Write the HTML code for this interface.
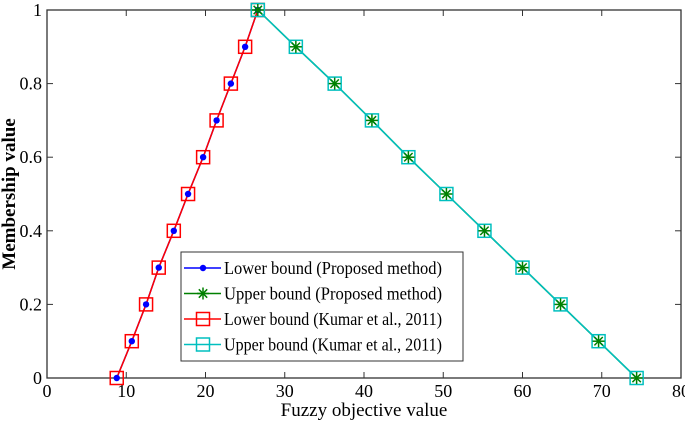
<!DOCTYPE html>
<html><head><meta charset="utf-8"><style>
body{margin:0;background:#fff;}
svg text{font-family:"Liberation Serif",serif;}
</style></head><body>
<svg id="chart" width="685" height="429" xmlns="http://www.w3.org/2000/svg"></svg>
<script>
const membership = [0,0.1,0.2,0.3,0.4,0.5,0.6,0.7,0.8,0.9,1];
const lowerProposed = [8.8,10.7,12.5,14.1,16.0,17.8,19.7,21.4,23.2,25.0,26.6];
const upperMembership = [1,0.9,0.8,0.7,0.6,0.5,0.4,0.3,0.2,0.1,0];
const upperProposed = [26.6,31.4,36.3,41.0,45.6,50.4,55.2,60.0,64.8,69.6,74.4];
const xTicks = [0,10,20,30,40,50,60,70,80];
const yTicks = [0,0.2,0.4,0.6,0.8,1];
const yTickLabels = ["0","0.2","0.4","0.6","0.8","1"];
const legendLabels = ["Lower bound (Proposed method)","Upper bound (Proposed method)","Lower bound (Kumar et al., 2011)","Upper bound (Kumar et al., 2011)"];

const NS="http://www.w3.org/2000/svg";
const svg=document.getElementById('chart');
const L=47,R=681,T=10,B=378;
const xs=v=>L+(v-0)/80*(R-L);
const ys=v=>B-v*(B-T);
function el(tag,attrs,parent){const e=document.createElementNS(NS,tag);for(const k in attrs)e.setAttribute(k,attrs[k]);(parent||svg).appendChild(e);return e;}

const frame=el('rect',{x:L,y:T,width:R-L,height:B-T,fill:'#fff',stroke:'#333','stroke-width':1.3});



xTicks.forEach(t=>{
  const x=xs(t);
  el('line',{x1:x,y1:B,x2:x,y2:B-6,stroke:'#333'});
  el('line',{x1:x,y1:T,x2:x,y2:T+6,stroke:'#333'});
  const tx=el('text',{x:x,y:B+19,'font-size':18,'text-anchor':'middle'});
  tx.textContent=t;
  
  
});
yTicks.forEach((t,i)=>{
  const y=ys(t);
  el('line',{x1:L,y1:y,x2:L+6,y2:y,stroke:'#333'});
  el('line',{x1:R,y1:y,x2:R-6,y2:y,stroke:'#333'});
  const tx=el('text',{x:L-5,y:y+6,'font-size':18,'text-anchor':'end'});
  tx.textContent=yTickLabels[i];
  
  
});
const xt=el('text',{x:364,y:416,'font-size':19,'text-anchor':'middle'});
xt.textContent='Fuzzy objective value';


const yt=el('text',{x:0,y:0,'font-size':19,'text-anchor':'middle','font-weight':'bold',transform:'translate(15,194) rotate(-90)'});
yt.textContent='Membership value';



function markerSquare(g,x,y,c){el('rect',{x:x-6.5,y:y-6.5,width:13,height:13,fill:'none',stroke:c,'stroke-width':1.5},g);}
function markerStar(g,x,y){const s=6;[[s,0],[0,s],[s*0.7,s*0.7],[s*0.7,-s*0.7]].forEach(([a,b])=>el('line',{x1:x-a,y1:y-b,x2:x+a,y2:y+b,stroke:'#008000','stroke-width':1.5},g));}
function markerDot(g,x,y){el('circle',{cx:x,cy:y,r:3.2,fill:'#0000ff'},g);}

function series(name,xv,yv,color,marker,drawLine,drawMarks){
  const g=el('g',{});
  
  
  if(drawLine) el('polyline',{points:xv.map((v,i)=>xs(v)+','+ys(yv[i])).join(' '),fill:'none',stroke:color,'stroke-width':1.5},g);
  if(drawMarks) xv.forEach((v,i)=>marker(g,xs(v),ys(yv[i]),color));
}
series('series-lower-proposed-line',lowerProposed,membership,'#0000ff',markerDot,true,false);
series('series-upper-proposed-line',upperProposed,upperMembership,'#008000',markerStar,true,false);
series('series-lower-kumar',lowerProposed,membership,'#ff0000',markerSquare,true,true);
series('series-upper-kumar',upperProposed,upperMembership,'#00bfbf',markerSquare,true,true);
series('series-lower-proposed',lowerProposed,membership,'#0000ff',markerDot,false,true);
series('series-upper-proposed',upperProposed,upperMembership,'#008000',(g,x,y)=>markerStar(g,x,y),false,true);

const lg=el('g',{});


el('rect',{x:181,y:252,width:282,height:109,fill:'#fff',stroke:'#333','stroke-width':1},lg);
const colors=['#0000ff','#008000','#ff0000','#00bfbf'];
const marks=[markerDot,(g,x,y)=>markerStar(g,x,y),markerSquare,markerSquare];
legendLabels.forEach((lab,i)=>{
  const y=268+i*25.5;
  const e=el('g',{},lg);
  
  
  el('line',{x1:184,y1:y,x2:221,y2:y,stroke:colors[i],'stroke-width':1.5},e);
  marks[i](e,203,y,colors[i]);
  const t=el('text',{x:224,y:y+6,'font-size':18,textLength:218,lengthAdjust:'spacingAndGlyphs'},e);
  t.textContent=lab;
});
</script>
</body></html>
